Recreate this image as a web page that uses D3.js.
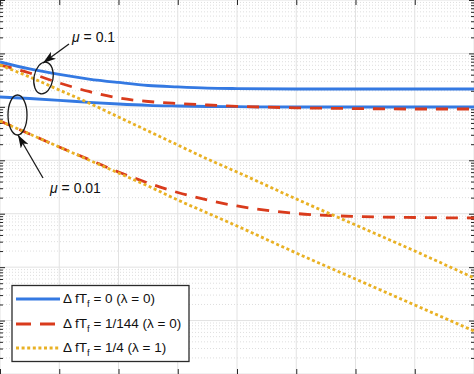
<!DOCTYPE html>
<html>
<head>
<meta charset="utf-8">
<script src="https://cdn.jsdelivr.net/npm/d3@7"></script>
<style>
  html, body { margin: 0; padding: 0; background: #fff; }
  svg { display: block; font-family: "Liberation Sans", Arial, Helvetica, sans-serif; }
</style>
</head>
<body>
<div id="main"></div>
<script>
// x values (SNR-like axis, cropped so no labels show)
const snr = [0, 2.5, 5, 7.5, 10, 12.5, 15, 17.5, 20, 25, 30, 35, 40];

// mu = 0.1
const blueHigh = [0.0692, 0.0512, 0.0404, 0.0332, 0.0286, 0.0251, 0.0236, 0.0225, 0.0220, 0.0216, 0.0216, 0.0216, 0.0216];
const redHigh = [0.0607, 0.0430, 0.0280, 0.0194, 0.01465, 0.0126, 0.01156, 0.01083, 0.01024, 0.0096, 0.00928, 0.00912, 0.00912];
const yellowHigh = [0.0607, 0.0362, 0.02068, 0.01181, 6.46e-3, 3.53e-3, 1.93e-3, 1.057e-3, 6.03e-4, 1.886e-4, 6.15e-5, 2.006e-5, 6.26e-6];

// mu = 0.01
const blueLow = [0.01529, 0.01434, 0.01327, 0.01217, 0.01131, 0.01069, 0.01038, 0.01016, 0.01007, 0.00994, 0.00994, 0.00994, 0.00994];
const redLow = [5.44e-3, 3.105e-3, 1.773e-3, 1.035e-3, 6.03e-4, 3.76e-4, 2.495e-4, 1.806e-4, 1.395e-4, 1.009e-4, 8.87e-5, 8.5e-5, 8.32e-5];
const yellowLow = [5.44e-3, 3.105e-3, 1.773e-3, 1.012e-3, 5.78e-4, 3.30e-4, 1.806e-4, 1.031e-4, 5.89e-5, 1.84e-5, 6.0e-6, 1.956e-6, 6.38e-7];

const xTicks = [0, 5, 10, 15, 20, 25, 30, 35, 40];
const decades = [1e-7, 1e-6, 1e-5, 1e-4, 1e-3, 1e-2, 1e-1, 1];

const width = 474;
const height = 374;

const x = d3.scaleLinear().domain([0, 40]).range([0, width]);
const y = d3.scaleLog().domain([1e-7, 1]).range([height, 0]);

const minors = [];
decades.slice(0, -1).forEach(d => {
    for (let k = 2; k <= 9; k++) minors.push(d * k);
});

const svg = d3.create("svg")
    .attr("width", width)
    .attr("height", height)
    .attr("viewBox", [0, 0, width, height]);

svg.append("rect").attr("width", width).attr("height", height).attr("fill", "#fff");

// grid
svg.append("g")
    .selectAll("line")
    .data(minors)
    .join("line")
    .attr("x1", 0).attr("x2", width)
    .attr("y1", d => y(d)).attr("y2", d => y(d))
    .attr("stroke", "#d6d6d6")
    .attr("stroke-width", 0.8)
    .attr("stroke-dasharray", "1 2");

svg.append("g")
    .selectAll("line")
    .data(decades)
    .join("line")
    .attr("x1", 0).attr("x2", width)
    .attr("y1", d => y(d)).attr("y2", d => y(d))
    .attr("stroke", "#e2e2e2");

svg.append("g")
    .selectAll("line")
    .data(xTicks)
    .join("line")
    .attr("x1", d => x(d)).attr("x2", d => x(d))
    .attr("y1", 0).attr("y2", height)
    .attr("stroke", "#e2e2e2");

// ticks (inward, no labels – the figure is cropped)
const tickAxis = (g, axis) => g.call(axis.tickFormat(""))
    .call(g => g.select(".domain").remove())
    .call(g => g.selectAll(".tick line").attr("stroke", "#262626"));

svg.append("g").call(g => tickAxis(g, d3.axisRight(y).tickValues(decades).tickSize(5)));
svg.append("g").call(g => tickAxis(g, d3.axisRight(y).tickValues(minors).tickSize(3)));
svg.append("g").attr("transform", `translate(${width},0)`)
    .call(g => tickAxis(g, d3.axisLeft(y).tickValues(decades).tickSize(5)));
svg.append("g").attr("transform", `translate(${width},0)`)
    .call(g => tickAxis(g, d3.axisLeft(y).tickValues(minors).tickSize(3)));
svg.append("g")
    .call(g => tickAxis(g, d3.axisBottom(x).tickValues(xTicks).tickSize(5)));
svg.append("g").attr("transform", `translate(0,${height})`)
    .call(g => tickAxis(g, d3.axisTop(x).tickValues(xTicks).tickSize(5)));

// curves
const line = d3.line()
    .x(d => x(d[0]))
    .y(d => y(d[1]))
    .curve(d3.curveMonotoneX);

const series = [
    { values: blueHigh, color: "#3479e2", dash: null },
    { values: blueLow, color: "#3479e2", dash: null },
    { values: redHigh, color: "#d93b1c", dash: "12 9" },
    { values: redLow, color: "#d93b1c", dash: "12 9" },
    { values: yellowHigh, color: "#e9b124", dash: "3 2.6" },
    { values: yellowLow, color: "#e9b124", dash: "3 2.6" }
];

svg.append("g")
    .selectAll("path")
    .data(series)
    .join("path")
    .attr("fill", "none")
    .attr("stroke", d => d.color)
    .attr("stroke-width", 2.8)
    .attr("stroke-dasharray", d => d.dash)
    .attr("d", d => line(snr.map((s, i) => [s, d.values[i]])));

// annotations
svg.append("defs").append("marker")
    .attr("id", "head")
    .attr("viewBox", "0 0 12 8")
    .attr("refX", 12).attr("refY", 4)
    .attr("markerWidth", 13).attr("markerHeight", 9)
    .attr("markerUnits", "userSpaceOnUse")
    .attr("orient", "auto")
    .append("path")
    .attr("d", "M0,0 L12,4 L0,8 L3,4 Z")
    .attr("fill", "#111");

const ann = svg.append("g").attr("stroke", "#1a1a1a").attr("stroke-width", 1.3).attr("fill", "none");
ann.append("ellipse").attr("cx", 43.5).attr("cy", 78).attr("rx", 9.5).attr("ry", 16)
    .attr("transform", "rotate(10 43.5 78)");
ann.append("ellipse").attr("cx", 17.5).attr("cy", 115).attr("rx", 9.5).attr("ry", 20);
ann.append("line").attr("x1", 69).attr("y1", 44).attr("x2", 43).attr("y2", 63)
    .attr("marker-end", "url(#head)");
ann.append("line").attr("x1", 43).attr("y1", 178).attr("x2", 18).attr("y2", 135)
    .attr("marker-end", "url(#head)");

const label = (tx, ty, val) => {
    const t = svg.append("text").attr("x", tx).attr("y", ty)
        .attr("font-size", 14).attr("fill", "#111");
    t.append("tspan").attr("font-style", "italic").text("μ");
    t.append("tspan").text(` = ${val}`);
};
label(72, 42, "0.1");
label(50, 193, "0.01");

// legend
const legendItems = [
    { color: "#3479e2", dash: null, rest: " = 0 (λ = 0)" },
    { color: "#d93b1c", dash: "15 9", rest: " = 1/144 (λ = 0)" },
    { color: "#e9b124", dash: "3 2.6", rest: " = 1/4 (λ = 1)" }
];
const legendY = [299, 324, 348];

const legend = svg.append("g");
legend.append("rect")
    .attr("x", 12).attr("y", 285.5).attr("width", 177).attr("height", 76)
    .attr("fill", "#fff").attr("stroke", "#2b2b2b").attr("stroke-width", 1.3);

legendItems.forEach((d, i) => {
    const ly = legendY[i];
    legend.append("line")
        .attr("x1", 16).attr("x2", 60).attr("y1", ly).attr("y2", ly)
        .attr("stroke", d.color).attr("stroke-width", 2.8)
        .attr("stroke-dasharray", d.dash);
    const t = legend.append("text").attr("x", 63).attr("y", ly + 4)
        .attr("font-size", 13.5).attr("fill", "#111");
    t.append("tspan").text("Δ fT");
    t.append("tspan").attr("font-size", 9.5).attr("dy", 4).text("f");
    t.append("tspan").attr("dy", -4).text(d.rest);
});

d3.select("#main").append(() => svg.node());
</script>
</body>
</html>
